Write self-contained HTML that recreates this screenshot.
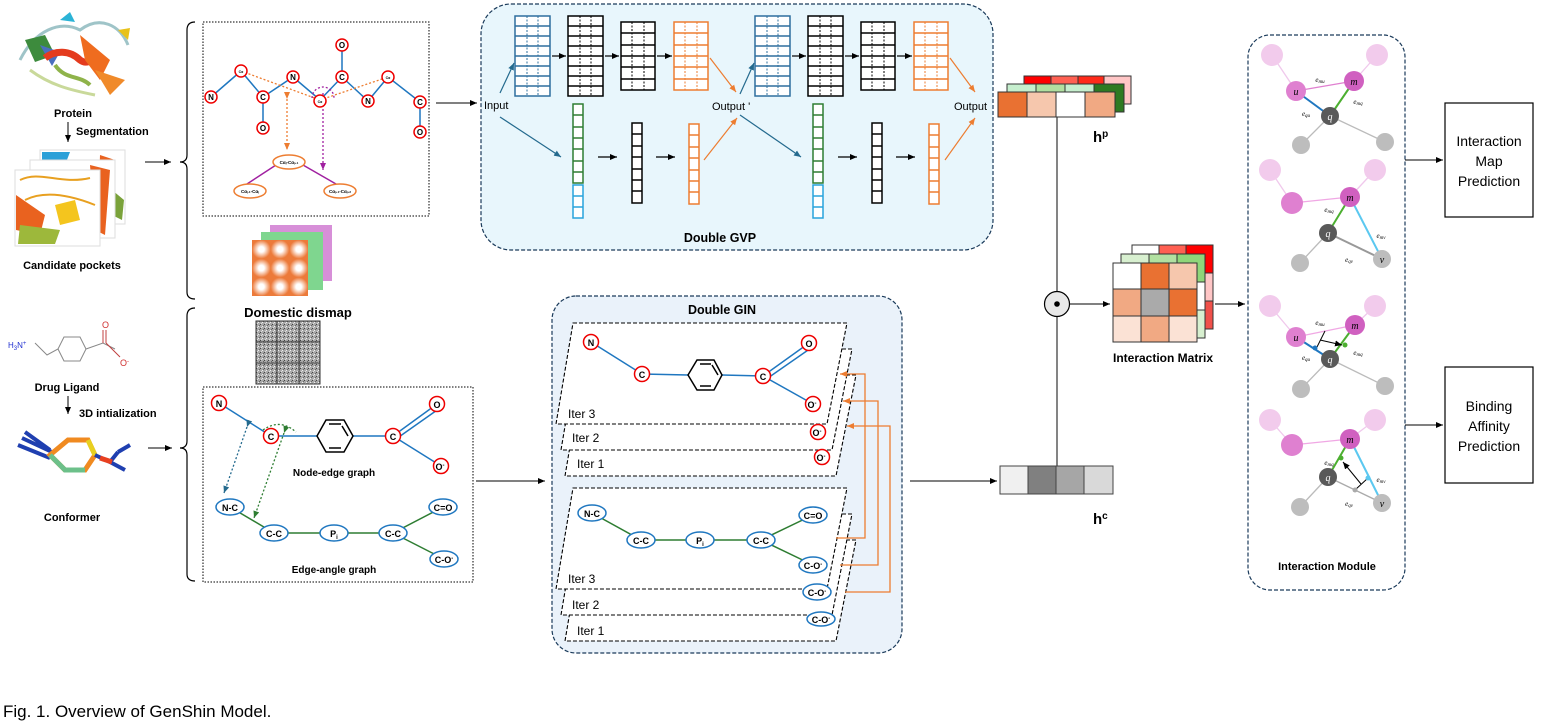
<!DOCTYPE html>
<html><head><meta charset="utf-8"><style>
html,body{margin:0;padding:0;background:#fff;}
svg{display:block;font-family:"Liberation Sans",Arial,sans-serif;}
.b{font-weight:bold;}
</style></head><body>
<svg width="1547" height="725" viewBox="0 0 1547 725" xmlns="http://www.w3.org/2000/svg">
<defs>
<marker id="ak" markerWidth="8" markerHeight="8" refX="7" refY="4" orient="auto" markerUnits="userSpaceOnUse"><path d="M0,1 L7,4 L0,7 z" fill="#000"/></marker>
<marker id="ab" markerWidth="8" markerHeight="8" refX="7" refY="4" orient="auto" markerUnits="userSpaceOnUse"><path d="M0,1 L7,4 L0,7 z" fill="#246a8e"/></marker>
<marker id="ao" markerWidth="8" markerHeight="8" refX="7" refY="4" orient="auto" markerUnits="userSpaceOnUse"><path d="M0,1 L7,4 L0,7 z" fill="#ed7d31"/></marker>
<marker id="ag" markerWidth="8" markerHeight="8" refX="7" refY="4" orient="auto" markerUnits="userSpaceOnUse"><path d="M0,1 L7,4 L0,7 z" fill="#2e7d32"/></marker>
<marker id="ap" markerWidth="8" markerHeight="8" refX="7" refY="4" orient="auto" markerUnits="userSpaceOnUse"><path d="M0,1 L7,4 L0,7 z" fill="#a020a0"/></marker>
<radialGradient id="dm"><stop offset="0.3" stop-color="#fff"/><stop offset="1" stop-color="#ec7a3a"/></radialGradient>
<pattern id="dmp" x="252" y="240" width="18.7" height="18.7" patternUnits="userSpaceOnUse"><rect width="18.7" height="18.7" fill="url(#dm)"/></pattern>
<pattern id="noise" width="4" height="4" patternUnits="userSpaceOnUse"><rect width="4" height="4" fill="#a9a9a9"/><rect width="1" height="1" fill="#444"/><rect x="2" y="2" width="1" height="1" fill="#eee"/><rect x="3" y="1" width="1" height="1" fill="#666"/><rect x="1" y="3" width="1" height="1" fill="#ddd"/></pattern>
</defs>

<g>
<rect x="12" y="8" width="122" height="95" fill="#fff"/>
<path d="M20,60 C35,30 60,20 80,30 C100,15 120,25 128,45" stroke="#9fc4c8" stroke-width="3" fill="none"/>
<path d="M25,40 L45,35 L55,55 L35,62 Z" fill="#3d8b3d"/>
<path d="M40,45 L60,52 L52,66 Z" fill="#4a6fbf"/>
<path d="M45,58 C55,50 70,50 80,60 C88,66 95,58 100,52" stroke="#e43b1e" stroke-width="7" fill="none"/>
<path d="M80,35 L110,60 L100,80 L85,60 Z" fill="#ef6c1f"/>
<path d="M95,70 L125,80 L110,95 Z" fill="#f08a2a"/>
<path d="M60,20 L70,12 L75,22 Z" fill="#2bb3d6"/>
<path d="M118,30 L130,28 L128,40 Z" fill="#e8c21a"/>
<path d="M30,70 C50,85 70,90 95,95" stroke="#c9d99a" stroke-width="3" fill="none"/>
<path d="M55,65 C65,80 80,75 90,85" stroke="#8fb34a" stroke-width="4" fill="none"/>
<text x="73" y="117" font-size="11" class="b" text-anchor="middle">Protein</text>
<line x1="68" y1="122" x2="68" y2="142" stroke="#000" marker-end="url(#ak)"/>
<text x="76" y="135" font-size="11" class="b">Segmentation</text>
<rect x="40" y="150" width="85" height="74" fill="#fff" stroke="#ddd"/>
<path d="M42,152 L70,152 L65,165 L42,170Z" fill="#2ba0d8"/><path d="M100,155 L115,160 L108,220 L98,215Z" fill="#e9621f"/><path d="M112,190 L124,200 L122,220 L112,215Z" fill="#7aa23a"/>
<rect x="30" y="160" width="85" height="78" fill="#fff" stroke="#ddd"/>
<path d="M32,180 L50,175 L55,200 L32,205Z" fill="#2d4fb0"/><path d="M90,165 L110,170 L105,235 L95,230Z" fill="#e9621f"/>
<rect x="15" y="170" width="85" height="76" fill="#fff" stroke="#ddd"/>
<path d="M16,195 L45,215 L40,235 L16,230Z" fill="#e9621f"/><path d="M20,225 L60,230 L55,244 L18,244Z" fill="#9db83b"/><path d="M55,205 L75,200 L80,220 L60,225Z" fill="#f4c51e"/>
<path d="M20,180 C40,170 60,185 90,178 M25,200 C45,190 70,195 95,205" stroke="#e8a020" stroke-width="2" fill="none"/>
<text x="72" y="269" font-size="11" class="b" text-anchor="middle">Candidate pockets</text>
<line x1="145" y1="162" x2="171" y2="162" stroke="#000" marker-end="url(#ak)"/>
<text x="8" y="348" font-size="8" fill="#2030d0">H<tspan font-size="6" dy="2">3</tspan><tspan dy="-2">N</tspan><tspan font-size="6" dy="-3">+</tspan></text>
<path d="M35,343 L47,355 L58,349 L64,337 L80,337 L86,349 L80,361 L64,361 L58,349 M86,349 L103,343 L115,349" stroke="#888" fill="none" stroke-width="1"/>
<path d="M103,343 L103,330 M106,343 L106,330 M106,343 L120,357" stroke="#c04040" fill="none"/>
<text x="102" y="328" font-size="9" fill="#d03030">O</text><text x="120" y="366" font-size="9" fill="#d03030">O<tspan font-size="6" dy="-3">-</tspan></text>
<text x="67" y="391" font-size="11" class="b" text-anchor="middle">Drug Ligand</text>
<line x1="68" y1="396" x2="68" y2="414" stroke="#000" marker-end="url(#ak)"/>
<text x="79" y="417" font-size="11" class="b">3D intialization</text>
<path d="M18,445 L50,458 M22,438 L52,452 M25,432 L50,450" stroke="#1f3fb0" stroke-width="4"/>
<path d="M50,455 L68,440 L88,440 L95,455 L85,470 L65,470 Z" stroke="#f08a20" stroke-width="5" fill="none"/>
<path d="M50,455 L65,470 L85,470" stroke="#6cc08a" stroke-width="5" fill="none"/>
<path d="M88,440 L95,455" stroke="#e8d020" stroke-width="5"/>
<path d="M95,455 L110,462 L118,452 M110,462 L125,470 M118,452 L130,445" stroke="#1f3fb0" stroke-width="4" fill="none"/>
<path d="M100,458 L112,462" stroke="#e84020" stroke-width="5"/>
<text x="72" y="521" font-size="11" class="b" text-anchor="middle">Conformer</text>
<line x1="148" y1="448" x2="172" y2="448" stroke="#000" marker-end="url(#ak)"/>
<path d="M195,22 Q187,22 187,30 L187,155 Q187,162 180,162 Q187,162 187,169 L187,292 Q187,299 195,299" stroke="#000" fill="none" stroke-width="1.2"/>
<path d="M195,308 Q187,308 187,316 L187,441 Q187,448 180,448 Q187,448 187,455 L187,574 Q187,581 195,581" stroke="#000" fill="none" stroke-width="1.2"/>
</g>

<rect x="203" y="22" width="226" height="194" fill="none" stroke="#000" stroke-dasharray="1.5,1.5"/>
<g stroke="#1f77c0" stroke-width="1.5" fill="none">
<path d="M211,97 L241,71 L263,97 L263,128 M263,97 L293,77 L320,100 L342,77 L342,45 M342,77 L368,101 L388,77 L420,102 L420,132"/>
</g>
<g stroke="#ed7d31" stroke-width="1.3" fill="none" stroke-dasharray="2,2">
<path d="M241,71 L320,100 L388,77"/>
<path d="M287,99 L287,150" marker-start="url(#ao)" marker-end="url(#ao)"/>
</g>
<g stroke="#a020a0" stroke-width="1.3" fill="none" stroke-dasharray="2,2">
<path d="M323,93 L323,170" marker-end="url(#ap)"/>
<path d="M312,98 A11,11 0 0 1 334,98"/>
</g>
<g stroke="#a020a0" stroke-width="1.5"><line x1="276" y1="165" x2="247" y2="184"/><line x1="303" y1="165" x2="336" y2="184"/></g>
<g fill="#fff" stroke="#ed7d31" stroke-width="1.5">
<ellipse cx="289" cy="162" rx="16" ry="7"/><ellipse cx="250" cy="191" rx="16" ry="7"/><ellipse cx="340" cy="191" rx="16" ry="7"/>
</g>
<g font-size="4.5" text-anchor="middle" class="b"><text x="289" y="164">Cα<tspan font-size="3">j</tspan>-Cα<tspan font-size="3">j+1</tspan></text><text x="250" y="193">Cα<tspan font-size="3">j-1</tspan>-Cα<tspan font-size="3">j</tspan></text><text x="340" y="193">Cα<tspan font-size="3">j+1</tspan>-Cα<tspan font-size="3">j+2</tspan></text></g>
<g fill="#fff" stroke="#e00" stroke-width="1.5">
<circle cx="241" cy="71" r="6"/><circle cx="211" cy="97" r="6"/><circle cx="263" cy="97" r="6"/><circle cx="263" cy="128" r="6"/><circle cx="293" cy="77" r="6"/><circle cx="320" cy="101" r="6"/><circle cx="342" cy="77" r="6"/><circle cx="342" cy="45" r="6"/><circle cx="368" cy="101" r="6"/><circle cx="388" cy="77" r="6"/><circle cx="420" cy="102" r="6"/><circle cx="420" cy="132" r="6"/>
</g>
<g font-size="8" class="b" text-anchor="middle">
<text x="211" y="100">N</text><text x="263" y="100">C</text><text x="263" y="131">O</text><text x="293" y="80">N</text><text x="342" y="80">C</text><text x="342" y="48">O</text><text x="368" y="104">N</text><text x="420" y="105">C</text><text x="420" y="135">O</text>
<text x="241" y="73" font-size="3.5">Cα</text><text x="320" y="103" font-size="3.5">Cα</text><text x="388" y="79" font-size="3.5">Cα</text>
</g>
<line x1="436" y1="103" x2="477" y2="103" stroke="#000" marker-end="url(#ak)"/>

<rect x="270" y="225" width="62" height="56" fill="#d78fd8"/>
<rect x="261" y="232" width="62" height="58" fill="#7fd68f"/>
<rect x="252" y="240" width="56" height="56" fill="url(#dmp)"/>
<text x="298" y="317" font-size="13" class="b" text-anchor="middle">Domestic dismap</text>
<rect x="256" y="321" width="64" height="63" fill="url(#noise)"/>
<path d="M277,321 V384 M299,321 V384 M256,342 H320 M256,363 H320" stroke="#333"/>
<rect x="256" y="321" width="64" height="63" fill="none" stroke="#333"/>

<rect x="203" y="387" width="270" height="195" fill="none" stroke="#000" stroke-dasharray="1.5,1.5"/>
<g stroke="#1f77c0" stroke-width="1.5" fill="none">
<path d="M219,403 L271,436 L317,436 M353,436 L393,436 L437,404 M393,436 L441,466"/>
<path d="M396,439 L440,408"/>
</g>
<path d="M317,436 L326,420 L344,420 L353,436 L344,452 L326,452 Z M329,424 L341,424 M329,448 L341,448 M348,436 L342,426" stroke="#000" stroke-width="1.5" fill="none"/>
<g stroke="#2e7d32" stroke-width="1.5" fill="none"><path d="M230,507 L274,533 L393,533 L443,507 M393,533 L444,559"/></g>
<path d="M247,427 L224,493" stroke="#246a8e" stroke-width="1.3" stroke-dasharray="2,2" marker-start="url(#ab)" marker-end="url(#ab)"/>
<path d="M284,433 L254,518" stroke="#2e7d32" stroke-width="1.3" stroke-dasharray="2,2" marker-start="url(#ag)" marker-end="url(#ag)"/>
<path d="M263,430 Q280,418 296,432" stroke="#2e7d32" stroke-width="1.3" stroke-dasharray="2,2" fill="none"/>
<g fill="#fff" stroke="#e00" stroke-width="1.5"><circle cx="219" cy="403" r="7.5"/><circle cx="271" cy="436" r="7.5"/><circle cx="393" cy="436" r="7.5"/><circle cx="437" cy="404" r="7.5"/><circle cx="441" cy="466" r="7.5"/></g>
<g font-size="9" class="b" text-anchor="middle"><text x="219" y="407">N</text><text x="271" y="440">C</text><text x="393" y="440">C</text><text x="437" y="408">O</text><text x="440" y="470">O<tspan font-size="6" dy="-3">-</tspan></text></g>
<g fill="#fff" stroke="#1f77c0" stroke-width="1.5"><ellipse cx="230" cy="507" rx="14" ry="8"/><ellipse cx="274" cy="533" rx="14" ry="8"/><ellipse cx="334" cy="533" rx="14" ry="8"/><ellipse cx="393" cy="533" rx="14" ry="8"/><ellipse cx="443" cy="507" rx="14" ry="8"/><ellipse cx="444" cy="559" rx="14" ry="8"/></g>
<g font-size="9" class="b" text-anchor="middle"><text x="230" y="511">N-C</text><text x="274" y="537">C-C</text><text x="334" y="537">P<tspan font-size="6" dy="2">i</tspan></text><text x="393" y="537">C-C</text><text x="443" y="511">C=O</text><text x="444" y="563">C-O<tspan font-size="6" dy="-3">-</tspan></text></g>
<text x="334" y="476" font-size="10" class="b" text-anchor="middle">Node-edge  graph</text>
<text x="334" y="573" font-size="10" class="b" text-anchor="middle">Edge-angle  graph</text>
<line x1="476" y1="481" x2="545" y2="481" stroke="#000" marker-end="url(#ak)"/>

<rect x="481" y="4" width="512" height="246" rx="30" fill="#e8f6fc" stroke="#1a3a5a" stroke-dasharray="4,2" stroke-width="1.2"/>
<g fill="#fff" stroke-width="1.5">
<g stroke="#2e6f9e"><rect x="515" y="16" width="35" height="80"/><path d="M515,26H550M515,36H550M515,46H550M515,56H550M515,66H550M515,76H550M515,86H550"/><path d="M527,16V96M538,16V96" stroke-dasharray="2,1.5" stroke-width="1"/></g>
<g stroke="#000"><rect x="568" y="16" width="35" height="80"/><path d="M568,26H603M568,36H603M568,46H603M568,56H603M568,66H603M568,76H603M568,86H603"/><path d="M580,16V96M591,16V96" stroke-dasharray="2,1.5" stroke-width="1"/></g>
<g stroke="#000"><rect x="621" y="22" width="34" height="68"/><path d="M621,33H655M621,45H655M621,56H655M621,67H655M621,79H655"/><path d="M632,22V90M644,22V90" stroke-dasharray="2,1.5" stroke-width="1"/></g>
<g stroke="#ed7d31"><rect x="674" y="22" width="34" height="68"/><path d="M674,33H708M674,45H708M674,56H708M674,67H708M674,79H708"/><path d="M685,22V90M697,22V90" stroke-dasharray="2,1.5" stroke-width="1"/></g>
<g stroke="#2e6f9e"><rect x="755" y="16" width="35" height="80"/><path d="M755,26H790M755,36H790M755,46H790M755,56H790M755,66H790M755,76H790M755,86H790"/><path d="M767,16V96M778,16V96" stroke-dasharray="2,1.5" stroke-width="1"/></g>
<g stroke="#000"><rect x="808" y="16" width="35" height="80"/><path d="M808,26H843M808,36H843M808,46H843M808,56H843M808,66H843M808,76H843M808,86H843"/><path d="M820,16V96M831,16V96" stroke-dasharray="2,1.5" stroke-width="1"/></g>
<g stroke="#000"><rect x="861" y="22" width="34" height="68"/><path d="M861,33H895M861,45H895M861,56H895M861,67H895M861,79H895"/><path d="M872,22V90M884,22V90" stroke-dasharray="2,1.5" stroke-width="1"/></g>
<g stroke="#ed7d31"><rect x="914" y="22" width="34" height="68"/><path d="M914,33H948M914,45H948M914,56H948M914,67H948M914,79H948"/><path d="M925,22V90M937,22V90" stroke-dasharray="2,1.5" stroke-width="1"/></g>
<g stroke="#2e7d32"><rect x="573" y="104" width="10" height="79"/><path d="M573,115H583M573,127H583M573,138H583M573,149H583M573,161H583M573,172H583"/></g>
<g stroke="#29a3dc"><rect x="573" y="185" width="10" height="33"/><path d="M573,196H583M573,207H583"/></g>
<g stroke="#000"><rect x="632" y="123" width="10" height="80"/><path d="M632,134H642M632,146H642M632,157H642M632,169H642M632,180H642M632,191H642"/></g>
<g stroke="#ed7d31"><rect x="689" y="124" width="10" height="80"/><path d="M689,135H699M689,147H699M689,158H699M689,170H699M689,181H699M689,192H699"/></g>
<g stroke="#2e7d32"><rect x="813" y="104" width="10" height="79"/><path d="M813,115H823M813,127H823M813,138H823M813,149H823M813,161H823M813,172H823"/></g>
<g stroke="#29a3dc"><rect x="813" y="185" width="10" height="33"/><path d="M813,196H823M813,207H823"/></g>
<g stroke="#000"><rect x="872" y="123" width="10" height="80"/><path d="M872,134H882M872,146H882M872,157H882M872,169H882M872,180H882M872,191H882"/></g>
<g stroke="#ed7d31"><rect x="929" y="124" width="10" height="80"/><path d="M929,135H939M929,147H939M929,158H939M929,170H939M929,181H939M929,192H939"/></g>
</g>
<g stroke="#000" stroke-width="1.2">
<line x1="552" y1="56" x2="566" y2="56" marker-end="url(#ak)"/><line x1="605" y1="56" x2="619" y2="56" marker-end="url(#ak)"/><line x1="657" y1="56" x2="672" y2="56" marker-end="url(#ak)"/>
<line x1="792" y1="56" x2="806" y2="56" marker-end="url(#ak)"/><line x1="845" y1="56" x2="859" y2="56" marker-end="url(#ak)"/><line x1="897" y1="56" x2="912" y2="56" marker-end="url(#ak)"/>
<line x1="598" y1="157" x2="617" y2="157" marker-end="url(#ak)"/><line x1="656" y1="157" x2="675" y2="157" marker-end="url(#ak)"/>
<line x1="838" y1="157" x2="857" y2="157" marker-end="url(#ak)"/><line x1="896" y1="157" x2="915" y2="157" marker-end="url(#ak)"/>
</g>
<g stroke="#246a8e" stroke-width="1.2">
<line x1="500" y1="93" x2="514" y2="63" marker-end="url(#ab)"/><line x1="500" y1="117" x2="561" y2="157" marker-end="url(#ab)"/>
<line x1="740" y1="94" x2="754" y2="63" marker-end="url(#ab)"/><line x1="740" y1="115" x2="801" y2="157" marker-end="url(#ab)"/>
</g>
<g stroke="#ed7d31" stroke-width="1.2">
<line x1="710" y1="58" x2="736" y2="92" marker-end="url(#ao)"/><line x1="704" y1="160" x2="737" y2="118" marker-end="url(#ao)"/>
<line x1="950" y1="58" x2="975" y2="92" marker-end="url(#ao)"/><line x1="945" y1="160" x2="975" y2="118" marker-end="url(#ao)"/>
</g>
<g font-size="11"><text x="484" y="109">Input</text><text x="712" y="110">Output '</text><text x="954" y="110">Output</text></g>
<text x="720" y="242" font-size="12.5" class="b" text-anchor="middle">Double GVP</text>

<rect x="552" y="296" width="350" height="357" rx="24" fill="#eaf2fa" stroke="#1a3a5a" stroke-dasharray="4,2" stroke-width="1.2"/>
<text x="722" y="314" font-size="12.5" class="b" text-anchor="middle">Double GIN</text>
<g fill="#fff" stroke="#000" stroke-dasharray="4,2" stroke-width="1.1">
<polygon points="582,375 856,375 836,476 565,476"/>
<polygon points="578,349 852,349 832,450 561,450"/>
<polygon points="573,323 847,323 827,424 556,424"/>
<polygon points="582,540 856,540 836,641 565,641"/>
<polygon points="578,514 852,514 832,615 561,615"/>
<polygon points="573,488 847,488 827,589 556,589"/>
</g>
<g stroke="#1f77c0" stroke-width="1.5" fill="none"><path d="M591,342 L642,374 L688,375 M722,375 L763,376 L809,343 M763,376 L813,404"/><path d="M765,380 L811,348"/></g>
<path d="M688,375 L697,360 L714,360 L722,375 L714,390 L697,390 Z M700,364 L711,364 M700,386 L711,386 M718,375 L712,365" stroke="#000" stroke-width="1.5" fill="none"/>
<g fill="#fff" stroke="#e00" stroke-width="1.5"><circle cx="591" cy="342" r="7.5"/><circle cx="642" cy="374" r="7.5"/><circle cx="763" cy="376" r="7.5"/><circle cx="809" cy="343" r="7.5"/><circle cx="813" cy="404" r="7.5"/><circle cx="818" cy="432" r="7.5"/><circle cx="822" cy="457" r="7.5"/></g>
<g font-size="9" class="b" text-anchor="middle"><text x="591" y="346">N</text><text x="642" y="378">C</text><text x="763" y="380">C</text><text x="809" y="347">O</text><text x="812" y="408">O<tspan font-size="6" dy="-3">-</tspan></text><text x="817" y="436">O<tspan font-size="6" dy="-3">-</tspan></text><text x="821" y="461">O<tspan font-size="6" dy="-3">-</tspan></text></g>
<g stroke="#2e7d32" stroke-width="1.5" fill="none"><path d="M592,513 L641,540 L761,540 L813,515 M761,540 L813,565"/></g>
<g fill="#fff" stroke="#1f77c0" stroke-width="1.5"><ellipse cx="592" cy="513" rx="14" ry="8"/><ellipse cx="641" cy="540" rx="14" ry="8"/><ellipse cx="700" cy="540" rx="14" ry="8"/><ellipse cx="761" cy="540" rx="14" ry="8"/><ellipse cx="813" cy="515" rx="14" ry="8"/><ellipse cx="813" cy="565" rx="14" ry="8"/><ellipse cx="817" cy="592" rx="14" ry="8"/><ellipse cx="821" cy="619" rx="14" ry="7"/></g>
<g font-size="9" class="b" text-anchor="middle"><text x="592" y="517">N-C</text><text x="641" y="544">C-C</text><text x="700" y="544">P<tspan font-size="6" dy="2">i</tspan></text><text x="761" y="544">C-C</text><text x="813" y="519">C=O</text><text x="813" y="569">C-O<tspan font-size="6" dy="-3">-</tspan></text><text x="817" y="596">C-O<tspan font-size="6" dy="-3">-</tspan></text><text x="821" y="623">C-O<tspan font-size="6" dy="-3">-</tspan></text></g>
<g font-size="12"><text x="568" y="418">Iter 3</text><text x="572" y="442">Iter 2</text><text x="577" y="468">Iter 1</text><text x="568" y="583">Iter 3</text><text x="572" y="609">Iter 2</text><text x="577" y="635">Iter 1</text></g>
<g stroke="#ed7d31" stroke-width="1.3" fill="none">
<path d="M836,538 H865 V374 H840" marker-end="url(#ao)"/>
<path d="M840,565 H878 V401 H843" marker-end="url(#ao)"/>
<path d="M845,592 H890 V426 H847" marker-end="url(#ao)"/>
</g>
<line x1="910" y1="481" x2="997" y2="481" stroke="#000" marker-end="url(#ak)"/>

<g stroke="#333" stroke-width="1">
<rect x="1024" y="76" width="27" height="28" fill="#ff0000"/><rect x="1051" y="76" width="27" height="28" fill="#ff6052"/><rect x="1078" y="76" width="26" height="28" fill="#ff2a1a"/><rect x="1104" y="76" width="27" height="28" fill="#ffc6c6"/>
<rect x="1007" y="84" width="29" height="28" fill="#c6efce"/><rect x="1036" y="84" width="29" height="28" fill="#b1e0a0"/><rect x="1065" y="84" width="29" height="28" fill="#c6efce"/><rect x="1094" y="84" width="30" height="28" fill="#2f7a22"/>
<rect x="998" y="92" width="29" height="25" fill="#e97132"/><rect x="1027" y="92" width="29" height="25" fill="#f6c7ad"/><rect x="1056" y="92" width="29" height="25" fill="#fff"/><rect x="1085" y="92" width="30" height="25" fill="#f1a983"/>
</g>
<text x="1093" y="142" font-size="15" class="b">h<tspan font-size="10" dy="-5">p</tspan></text>
<line x1="1057" y1="117" x2="1057" y2="466" stroke="#333" stroke-width="1.2"/>
<circle cx="1057" cy="304" r="12.5" fill="#e8e8e8" stroke="#000" stroke-width="1.2"/><circle cx="1057" cy="304" r="2.8" fill="#000"/>
<line x1="1070" y1="304" x2="1110" y2="304" stroke="#000" marker-end="url(#ak)"/>
<g stroke="#333">
<rect x="1132" y="245" width="27" height="28" fill="#fff"/><rect x="1159" y="245" width="27" height="28" fill="#ff6052"/><rect x="1186" y="245" width="27" height="28" fill="#ff0000"/>
<rect x="1186" y="273" width="27" height="28" fill="#ffc6c6"/><rect x="1186" y="301" width="27" height="28" fill="#f0504a"/>
<rect x="1121" y="254" width="28" height="28" fill="#d8f0d0"/><rect x="1149" y="254" width="28" height="28" fill="#b1e0a0"/><rect x="1177" y="254" width="28" height="28" fill="#8fd679"/>
<rect x="1177" y="282" width="28" height="28" fill="#fff"/><rect x="1177" y="310" width="28" height="28" fill="#d8f0d0"/>
<rect x="1113" y="263" width="28" height="26" fill="#fff"/><rect x="1141" y="263" width="28" height="26" fill="#e97132"/><rect x="1169" y="263" width="28" height="26" fill="#f6c7ad"/>
<rect x="1113" y="289" width="28" height="27" fill="#f1a983"/><rect x="1141" y="289" width="28" height="27" fill="#aaaaaa"/><rect x="1169" y="289" width="28" height="27" fill="#e97132"/>
<rect x="1113" y="316" width="28" height="26" fill="#fbe2d5"/><rect x="1141" y="316" width="28" height="26" fill="#f1a983"/><rect x="1169" y="316" width="28" height="26" fill="#fbe2d5"/>
</g>
<text x="1163" y="362" font-size="12" class="b" text-anchor="middle">Interaction Matrix</text>
<line x1="1215" y1="304" x2="1245" y2="304" stroke="#000" marker-end="url(#ak)"/>
<g stroke="#444">
<rect x="1000" y="466" width="28" height="28" fill="#f0f0f0"/><rect x="1028" y="466" width="28" height="28" fill="#808080"/><rect x="1056" y="466" width="28" height="28" fill="#a6a6a6"/><rect x="1084" y="466" width="29" height="28" fill="#d9d9d9"/>
</g>
<text x="1093" y="524" font-size="15" class="b">h<tspan font-size="10" dy="-5">c</tspan></text>

<rect x="1248" y="35" width="157" height="555" rx="22" fill="#fff" stroke="#1a3a5a" stroke-dasharray="4,2" stroke-width="1.2"/>
<text x="1327" y="570" font-size="11" class="b" text-anchor="middle">Interaction Module</text>
<g stroke-width="1.3">
<line x1="1272" y1="55" x2="1296" y2="91" stroke="#f0c8ec"/><line x1="1377" y1="55" x2="1354" y2="81" stroke="#f0c8ec"/>
<line x1="1296" y1="91" x2="1354" y2="81" stroke="#e080d0"/><line x1="1296" y1="91" x2="1330" y2="116" stroke="#1f77c0" stroke-width="2"/><line x1="1354" y1="81" x2="1330" y2="116" stroke="#4caf30" stroke-width="2"/>
<line x1="1330" y1="116" x2="1301" y2="145" stroke="#bbb"/><line x1="1330" y1="116" x2="1385" y2="142" stroke="#bbb"/>
<line x1="1270" y1="170" x2="1292" y2="203" stroke="#f0c8ec"/><line x1="1375" y1="170" x2="1350" y2="197" stroke="#f0c8ec"/>
<line x1="1292" y1="203" x2="1350" y2="197" stroke="#f0a8e4"/><line x1="1350" y1="197" x2="1328" y2="233" stroke="#4caf30" stroke-width="2"/><line x1="1350" y1="197" x2="1382" y2="259" stroke="#5bc8f0" stroke-width="2"/>
<line x1="1328" y1="233" x2="1382" y2="259" stroke="#999" stroke-width="2"/><line x1="1328" y1="233" x2="1300" y2="263" stroke="#bbb"/>
<line x1="1270" y1="306" x2="1296" y2="337" stroke="#f0c8ec"/><line x1="1375" y1="306" x2="1355" y2="325" stroke="#f0c8ec"/>
<line x1="1296" y1="337" x2="1355" y2="325" stroke="#f0a8e4"/><line x1="1296" y1="337" x2="1330" y2="359" stroke="#1f77c0" stroke-width="2"/><line x1="1355" y1="325" x2="1330" y2="359" stroke="#4caf30" stroke-width="2"/>
<line x1="1330" y1="359" x2="1301" y2="389" stroke="#bbb"/><line x1="1330" y1="359" x2="1385" y2="386" stroke="#bbb"/>
<line x1="1325" y1="331" x2="1317" y2="347" stroke="#000" stroke-width="1"/><line x1="1320" y1="340" x2="1342" y2="345" stroke="#000" stroke-width="1" marker-end="url(#ak)"/>
<circle cx="1315" cy="348" r="2.5" fill="#1f77c0"/><circle cx="1345" cy="345" r="2.5" fill="#4caf30"/>
<!-- panel4 -->
<line x1="1270" y1="420" x2="1292" y2="445" stroke="#f0c8ec"/><line x1="1375" y1="420" x2="1350" y2="439" stroke="#f0c8ec"/>
<line x1="1292" y1="445" x2="1350" y2="439" stroke="#f0a8e4"/><line x1="1350" y1="439" x2="1328" y2="477" stroke="#4caf30" stroke-width="2"/>
<line x1="1350" y1="439" x2="1382" y2="503" stroke="#5bc8f0" stroke-width="2"/><line x1="1328" y1="477" x2="1382" y2="503" stroke="#aaa"/><line x1="1328" y1="477" x2="1300" y2="507" stroke="#bbb"/>
<line x1="1355" y1="490" x2="1368" y2="478" stroke="#000" stroke-width="1"/><line x1="1361" y1="484" x2="1343" y2="462" stroke="#000" stroke-width="1" marker-end="url(#ak)"/>
<circle cx="1341" cy="458" r="2.5" fill="#4caf30"/><circle cx="1368" cy="478" r="2.5" fill="#5bc8f0"/><circle cx="1355" cy="490" r="2.5" fill="#aaa"/>
</g>
<g>
<circle cx="1272" cy="55" r="11" fill="#f2cbec"/><circle cx="1377" cy="55" r="11" fill="#f2cbec"/><circle cx="1296" cy="91" r="10" fill="#df80d0"/><circle cx="1354" cy="81" r="10" fill="#d060c0"/><circle cx="1330" cy="116" r="9" fill="#595959"/><circle cx="1301" cy="145" r="9" fill="#bdbdbd"/><circle cx="1385" cy="142" r="9" fill="#bdbdbd"/>
<circle cx="1270" cy="170" r="11" fill="#f2cbec"/><circle cx="1375" cy="170" r="11" fill="#f2cbec"/><circle cx="1292" cy="203" r="11" fill="#df80d0"/><circle cx="1350" cy="197" r="10" fill="#d060c0"/><circle cx="1328" cy="233" r="9" fill="#595959"/><circle cx="1300" cy="263" r="9" fill="#bdbdbd"/><circle cx="1382" cy="259" r="9" fill="#bdbdbd"/>
<circle cx="1270" cy="306" r="11" fill="#f2cbec"/><circle cx="1375" cy="306" r="11" fill="#f2cbec"/><circle cx="1296" cy="337" r="10" fill="#df80d0"/><circle cx="1355" cy="325" r="10" fill="#d060c0"/><circle cx="1330" cy="359" r="9" fill="#595959"/><circle cx="1301" cy="389" r="9" fill="#bdbdbd"/><circle cx="1385" cy="386" r="9" fill="#bdbdbd"/>
<circle cx="1270" cy="420" r="11" fill="#f2cbec"/><circle cx="1375" cy="420" r="11" fill="#f2cbec"/><circle cx="1292" cy="445" r="11" fill="#df80d0"/><circle cx="1350" cy="439" r="10" fill="#d060c0"/><circle cx="1328" cy="477" r="9" fill="#595959"/><circle cx="1300" cy="507" r="9" fill="#bdbdbd"/><circle cx="1382" cy="503" r="9" fill="#bdbdbd"/>
</g>
<g font-family="Liberation Serif,serif" font-style="italic" text-anchor="middle">
<text x="1296" y="95" font-size="10">u</text><text x="1354" y="85" font-size="10">m</text><text x="1330" y="120" font-size="10" fill="#fff">q</text>
<text x="1350" y="201" font-size="10">m</text><text x="1328" y="237" font-size="10" fill="#fff">q</text><text x="1382" y="263" font-size="10">v</text>
<text x="1296" y="341" font-size="10">u</text><text x="1355" y="329" font-size="10">m</text><text x="1330" y="363" font-size="10" fill="#fff">q</text>
<text x="1350" y="443" font-size="10">m</text><text x="1328" y="481" font-size="10" fill="#fff">q</text><text x="1382" y="507" font-size="10">v</text>
<g font-size="7"><text x="1320" y="82">e<tspan font-size="5" dy="1">mu</tspan></text><text x="1358" y="104">e<tspan font-size="5" dy="1">mq</tspan></text><text x="1306" y="116">e<tspan font-size="5" dy="1">qu</tspan></text>
<text x="1329" y="212">e<tspan font-size="5" dy="1">mq</tspan></text><text x="1381" y="238">e<tspan font-size="5" dy="1">mv</tspan></text><text x="1349" y="262">e<tspan font-size="5" dy="1">qv</tspan></text>
<text x="1320" y="325">e<tspan font-size="5" dy="1">mu</tspan></text><text x="1358" y="355">e<tspan font-size="5" dy="1">mq</tspan></text><text x="1306" y="360">e<tspan font-size="5" dy="1">qu</tspan></text>
<text x="1329" y="465">e<tspan font-size="5" dy="1">mq</tspan></text><text x="1381" y="482">e<tspan font-size="5" dy="1">mv</tspan></text><text x="1349" y="506">e<tspan font-size="5" dy="1">qv</tspan></text></g>
</g>
<line x1="1405" y1="160" x2="1443" y2="160" stroke="#000" marker-end="url(#ak)"/>
<line x1="1405" y1="425" x2="1443" y2="425" stroke="#000" marker-end="url(#ak)"/>
<rect x="1445" y="103" width="88" height="114" fill="#fff" stroke="#000" stroke-width="1.2"/>
<rect x="1445" y="367" width="88" height="116" fill="#fff" stroke="#000" stroke-width="1.2"/>
<g font-size="14" text-anchor="middle"><text x="1489" y="146">Interaction</text><text x="1489" y="166">Map</text><text x="1489" y="186">Prediction</text>
<text x="1489" y="411">Binding</text><text x="1489" y="431">Affinity</text><text x="1489" y="451">Prediction</text></g>

<text x="3" y="717" font-size="17">Fig. 1. Overview of GenShin Model.</text>
</svg>
</body></html>
